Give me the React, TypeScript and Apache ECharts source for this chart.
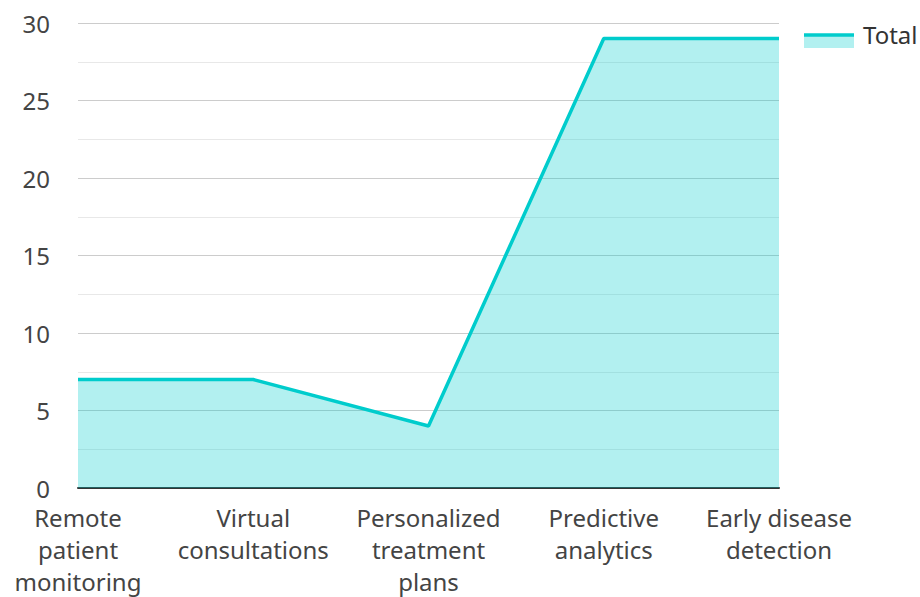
import React, { useEffect, useRef } from "react";
import * as echarts from "echarts";

const categories = [
  "Remote patient monitoring",
  "Virtual consultations",
  "Personalized treatment plans",
  "Predictive analytics",
  "Early disease detection",
];
const categoryLines = [
  "Remote\npatient\nmonitoring",
  "Virtual\nconsultations",
  "Personalized\ntreatment\nplans",
  "Predictive\nanalytics",
  "Early disease\ndetection",
];
const totalValues = [7, 7, 4, 29, 29];
const seriesName = "Total";

export default function App() {
  const ref = useRef<HTMLDivElement>(null);
  useEffect(() => {
    if (!ref.current) return;
    const chart = echarts.init(ref.current, undefined, { renderer: "svg" });
    const font = "'Noto Sans', 'Open Sans', sans-serif";
    chart.setOption({
      animation: false,
      textStyle: { fontFamily: font },
      grid: { left: 78, right: 141, top: 23, bottom: 107, containLabel: false },
      legend: {
        left: 803,
        top: 17,
        icon: "rect",
        itemWidth: 50,
        itemHeight: 24,
        itemGap: 10,
        itemStyle: { color: "rgba(0,0,0,0)", borderWidth: 0 },
        textStyle: { fontSize: 24, color: "#333", fontFamily: font, lineHeight: 24 },
        data: [seriesName],
        selectedMode: false,
      },
      graphic: [
        {
          type: "rect",
          shape: { x: 804, y: 35, width: 50, height: 13 },
          style: { fill: "rgba(0,204,204,0.3)" },
        },
        {
          type: "line",
          shape: { x1: 804, y1: 35, x2: 854, y2: 35 },
          style: { stroke: "#00CCCC", lineWidth: 3.5 },
        },
      ],
      xAxis: {
        type: "category",
        data: categories,
        boundaryGap: false,
        axisLine: { show: true, lineStyle: { color: "#333", width: 2 } },
        axisTick: { show: false },
        axisLabel: {
          interval: 0,
          margin: 13,
          fontSize: 24,
          lineHeight: 32,
          color: "#444",
          fontFamily: font,
          formatter: (_v: string, i: number) => categoryLines[i],
        },
        splitLine: { show: false },
      },
      yAxis: {
        type: "value",
        min: 0,
        max: 30,
        interval: 5,
        axisLine: { show: false },
        axisTick: { show: false },
        axisLabel: { fontSize: 24, color: "#444", margin: 28, fontFamily: font },
        splitLine: { show: true, lineStyle: { color: "#ccc", width: 1 } },
        minorTick: { show: false, splitNumber: 2 },
        minorSplitLine: { show: true, lineStyle: { color: "#e8e8e8", width: 1 } },
      },
      series: [
        {
          name: seriesName,
          type: "line",
          data: totalValues,
          showSymbol: false,
          symbol: "none",
          lineStyle: { color: "#00CCCC", width: 3.5 },
          itemStyle: { color: "#00CCCC" },
          areaStyle: { color: "#00CCCC", opacity: 0.3 },
        },
      ],
    });
    return () => chart.dispose();
  }, []);
  return (
    <div
      ref={ref}
      style={{ position: "absolute", left: 0, top: 0, width: 920, height: 597 }}
    />
  );
}
